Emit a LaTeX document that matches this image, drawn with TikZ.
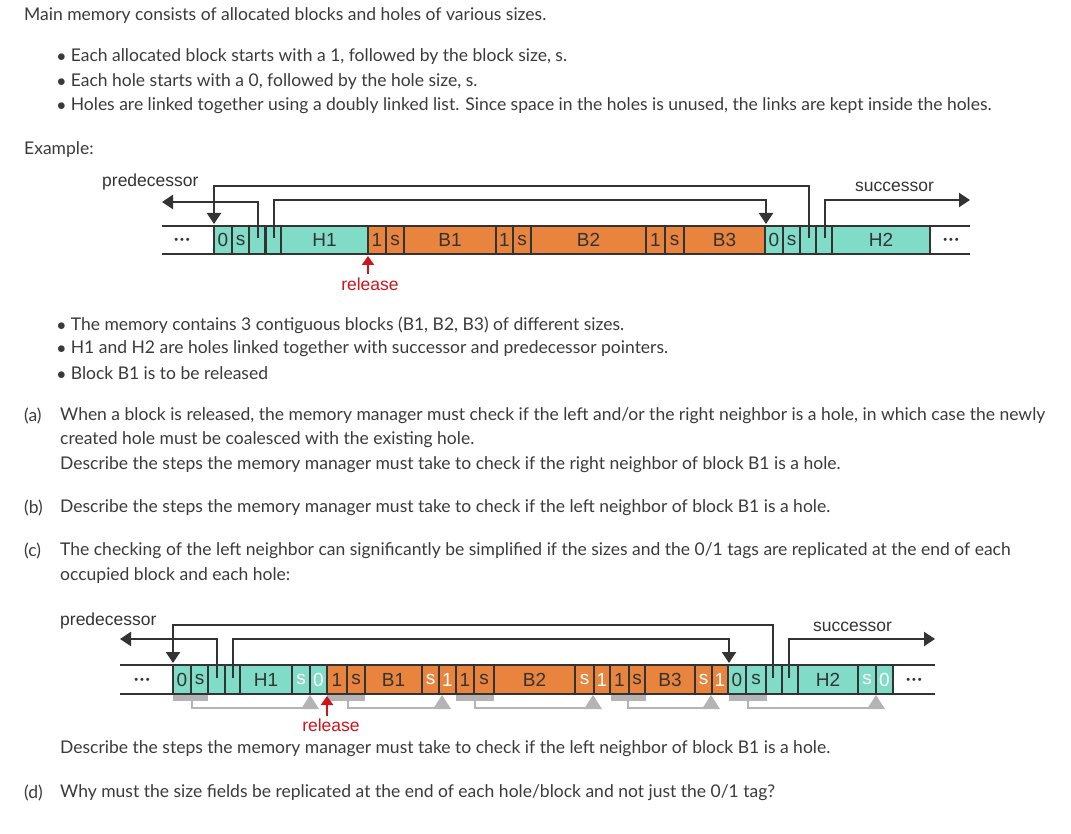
\documentclass[tikz,border=0pt]{standalone}
\usepackage{fontspec}
\setmainfont{Lato}
\newfontfamily\dfont{Liberation Sans}
\usetikzlibrary{arrows.meta}
\definecolor{teal}{HTML}{80DCC6}
\definecolor{orng}{HTML}{E9843F}
\definecolor{dk}{HTML}{333333}
\definecolor{txt}{HTML}{3A3A3A}
\definecolor{gr}{HTML}{B4B4B4}
\definecolor{rel}{HTML}{D0141B}
\newcommand\mc[7]{\draw[cellb,fill=#5] (#1,#3) rectangle (#2,#4); \node[ctext,text=#7] at ({(#1+#2)/2},{(#3+#4)/2}) {#6};}
\begin{document}
\begin{tikzpicture}[x=1pt,y=-1pt,
  body/.style={anchor=west,inner sep=0pt,text=txt,font=\fontsize{17.5}{21}\selectfont},
  cellb/.style={draw=dk,line width=1.1pt},
  ctext/.style={font=\dfont\fontsize{19}{21}\selectfont,inner sep=0pt},
  dots/.style={font=\dfont\fontsize{11}{12}\selectfont,text=dk,inner sep=0pt},
  lbl/.style={font=\dfont\fontsize{17.5}{19}\selectfont,text=dk,inner sep=0pt,anchor=west},
  parr/.style={draw=dk,line width=2.4pt,-{Triangle[length=11pt,width=14pt]}},
  band/.style={draw=dk,line width=1.8pt},
  gline/.style={draw=gr,line width=2.6pt}]
\useasboundingbox (0,0) rectangle (1071,834);
% text
\node[body] (t0) at (24,16) {Main memory consists of allocated blocks and holes of various sizes.};
\node[body] (b1) at (57,57) {$\bullet$\hspace{5pt}Each allocated block starts with a 1, followed by the block size, s.};
\node[body] (b2) at (57,82) {$\bullet$\hspace{5pt}Each hole starts with a 0, followed by the hole size, s.};
\node[body] (b3) at (57,106) {$\bullet$\hspace{5pt}Holes are linked together using a doubly linked list. Since space in the holes is unused, the links are kept inside the holes.};
\node[body] (ex) at (24,150) {Example:};
\node[body] (b4) at (57,325) {$\bullet$\hspace{5pt}The memory contains 3 contiguous blocks (B1, B2, B3) of different sizes.};
\node[body] (b5) at (57,349) {$\bullet$\hspace{5pt}H1 and H2 are holes linked together with successor and predecessor pointers.};
\node[body] (b6) at (57,373) {$\bullet$\hspace{5pt}Block B1 is to be released};
\node[body] (qa) at (24,416) {(a)};
\node[body] (qa1) at (60,416) {When a block is released, the memory manager must check if the left and/or the right neighbor is a hole, in which case the newly};
\node[body] (qa2) at (60,440) {created hole must be coalesced with the existing hole.};
\node[body] (qa3) at (60,465) {Describe the steps the memory manager must take to check if the right neighbor of block B1 is a hole.};
\node[body] (qb) at (24,508) {(b)};
\node[body] (qb1) at (60,508) {Describe the steps the memory manager must take to check if the left neighbor of block B1 is a hole.};
\node[body] (qc) at (24,551) {(c)};
\node[body] (qc1) at (60,551) {The checking of the left neighbor can significantly be simplified if the sizes and the 0/1 tags are replicated at the end of each};
\node[body] (qc2) at (60,576) {occupied block and each hole:};
\node[body] (qc3) at (60,749) {Describe the steps the memory manager must take to check if the left neighbor of block B1 is a hole.};
\node[body] (qd) at (24,793) {(d)};
\node[body] (qd1) at (60,793) {Why must the size fields be replicated at the end of each hole/block and not just the 0/1 tag?};

% ===== top diagram =====
\draw[band] (162,226) -- (970,226) (162,254) -- (970,254);
\node[dots] (d1) at (182,241) {\textbullet\,\textbullet\,\textbullet};
\node[dots] (d2) at (951,241) {\textbullet\,\textbullet\,\textbullet};
\mc{214}{232}{226}{254}{teal}{0}{dk}
\mc{232}{249}{226}{254}{teal}{s}{dk}
\mc{249}{265}{226}{254}{teal}{}{dk}
\mc{266}{281}{226}{254}{teal}{}{dk}
\mc{281}{368}{226}{254}{teal}{H1}{dk}
\mc{368}{386}{226}{254}{orng}{1}{dk}
\mc{386}{404}{226}{254}{orng}{s}{dk}
\mc{404}{496}{226}{254}{orng}{B1}{dk}
\mc{496}{513}{226}{254}{orng}{1}{dk}
\mc{513}{531}{226}{254}{orng}{s}{dk}
\mc{531}{646}{226}{254}{orng}{B2}{dk}
\mc{646}{665}{226}{254}{orng}{1}{dk}
\mc{665}{684}{226}{254}{orng}{s}{dk}
\mc{684}{765}{226}{254}{orng}{B3}{dk}
\mc{765}{783}{226}{254}{teal}{0}{dk}
\mc{783}{800}{226}{254}{teal}{s}{dk}
\mc{800}{816}{226}{254}{teal}{}{dk}
\mc{816}{832}{226}{254}{teal}{}{dk}
\mc{832}{930}{226}{254}{teal}{H2}{dk}
\draw[parr] (258,238) -- (258,202) -- (162,202);
\draw[parr] (809,238) -- (809,186) -- (214,186) -- (214,224);
\draw[parr] (274,238) -- (274,200) -- (766,200) -- (766,224);
\draw[parr] (825,238) -- (825,200) -- (970,200);
\node[lbl] (pre1) at (102,182) {predecessor};
\node[lbl] (suc1) at (855,187) {successor};
\draw[draw=rel,line width=2.4pt,-{Triangle[length=9pt,width=12pt]}] (368,274) -- (368,256);
\node[lbl,text=rel,anchor=center] (rl1) at (370,284) {release};

% ===== bottom diagram =====
\draw[band] (120,665) -- (935,665) (120,694) -- (935,694);
\node[dots] (d3) at (142,681) {\textbullet\,\textbullet\,\textbullet};
\node[dots] (d4) at (914,681) {\textbullet\,\textbullet\,\textbullet};
\foreach \a/\b/\c/\t in {173/208/192/310, 327/365/348/442, 456/494/475/593, 611/646/628/711, 729/767/748/876}{
  \fill[gr] (\a,694) rectangle (\b,701);
  \draw[gline] (\c,700) -- (\c,708) -- (\t,708);
  \fill[gr] (\t,695) -- (\t-9,709) -- (\t+9,709) -- cycle;
}
\mc{173}{191}{665}{694}{teal}{0}{dk}
\mc{191}{208}{665}{694}{teal}{s}{dk}
\mc{208}{225}{665}{694}{teal}{}{dk}
\mc{225}{240}{665}{694}{teal}{}{dk}
\mc{240}{292}{665}{694}{teal}{H1}{dk}
\mc{292}{310}{665}{694}{teal}{s}{white}
\mc{310}{327}{665}{694}{teal}{0}{white}
\mc{327}{347}{665}{694}{orng}{1}{dk}
\mc{347}{365}{665}{694}{orng}{s}{dk}
\mc{365}{422}{665}{694}{orng}{B1}{dk}
\mc{422}{439}{665}{694}{orng}{s}{white}
\mc{439}{456}{665}{694}{orng}{1}{white}
\mc{456}{474}{665}{694}{orng}{1}{dk}
\mc{474}{494}{665}{694}{orng}{s}{dk}
\mc{494}{575}{665}{694}{orng}{B2}{dk}
\mc{575}{594}{665}{694}{orng}{s}{white}
\mc{594}{610}{665}{694}{orng}{1}{white}
\mc{610}{629}{665}{694}{orng}{1}{dk}
\mc{629}{645}{665}{694}{orng}{s}{dk}
\mc{645}{695}{665}{694}{orng}{B3}{dk}
\mc{695}{712}{665}{694}{orng}{s}{white}
\mc{712}{728}{665}{694}{orng}{1}{white}
\mc{728}{746}{665}{694}{teal}{0}{dk}
\mc{746}{766}{665}{694}{teal}{s}{dk}
\mc{766}{782}{665}{694}{teal}{}{dk}
\mc{782}{798}{665}{694}{teal}{}{dk}
\mc{798}{858}{665}{694}{teal}{H2}{dk}
\mc{858}{876}{665}{694}{teal}{s}{white}
\mc{876}{893}{665}{694}{teal}{0}{white}
\draw[parr] (217,678) -- (217,639) -- (120,639);
\draw[parr] (773,678) -- (773,625) -- (173,625) -- (173,663);
\draw[parr] (233,678) -- (233,639) -- (729,639) -- (729,663);
\draw[parr] (789,678) -- (789,639) -- (935,639);
\node[lbl] (pre2) at (60,621) {predecessor};
\node[lbl] (suc2) at (813,627) {successor};
\draw[draw=rel,line width=2.4pt,-{Triangle[length=9pt,width=12pt]}] (327,716) -- (327,696);
\node[lbl,text=rel,anchor=center] (rl2) at (331,725) {release};
\end{tikzpicture}
\end{document}
